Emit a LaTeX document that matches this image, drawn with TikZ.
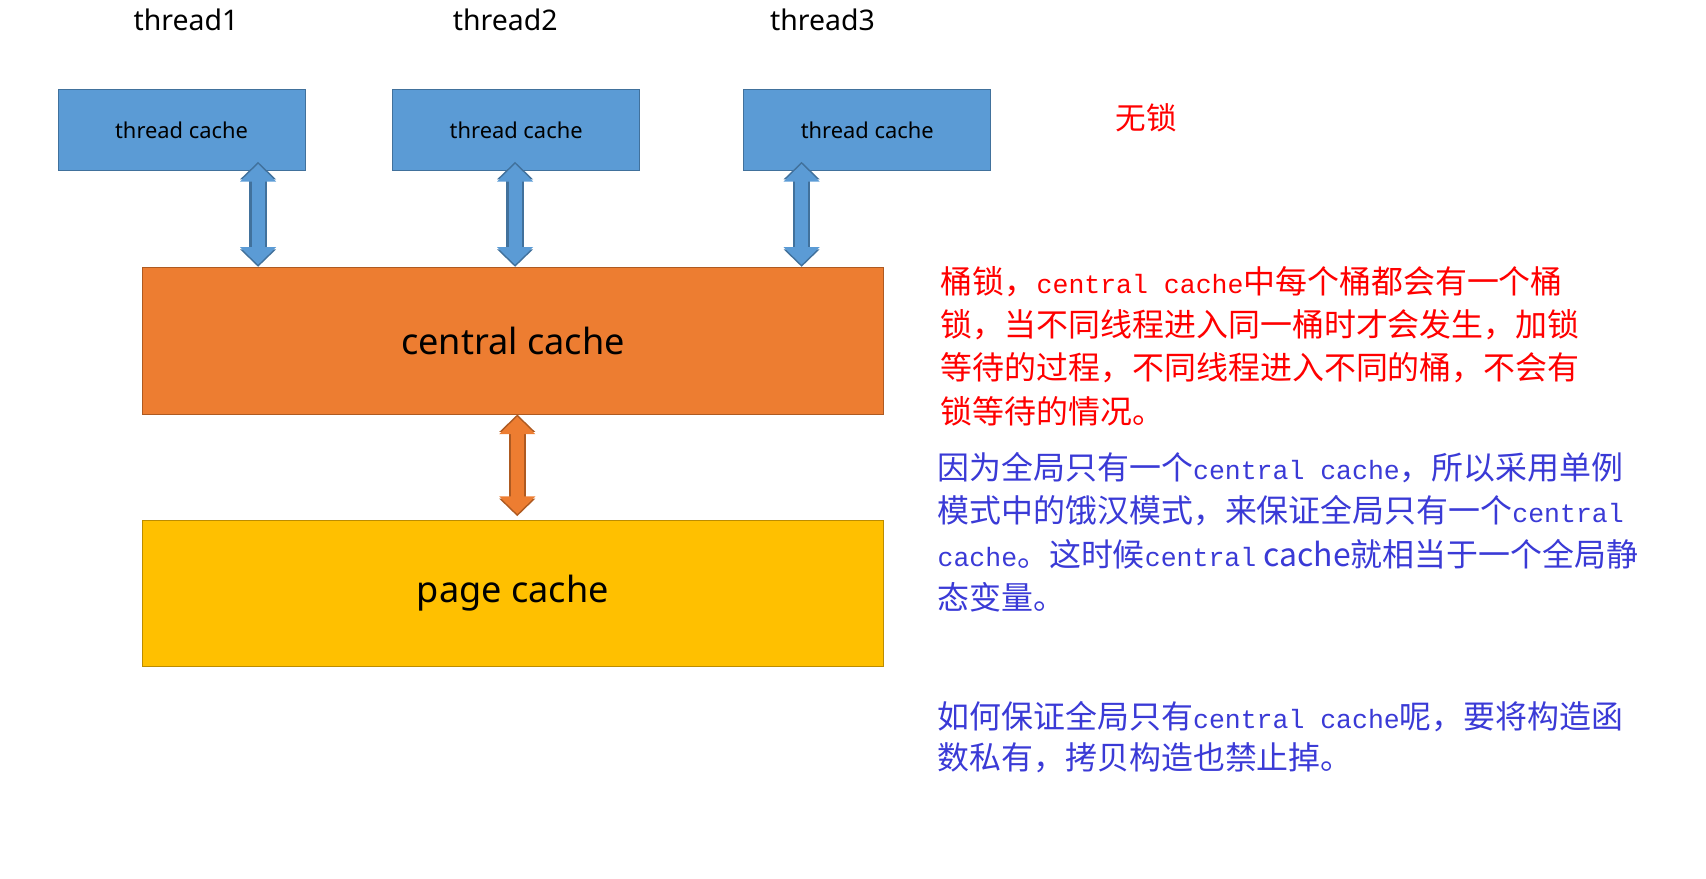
\documentclass[tikz,border=0pt]{standalone}
\usepackage{fontspec}
\setmainfont{Noto Sans}
\newfontfamily\cjk{Noto Sans CJK SC}
\newfontfamily\mono[Scale=0.83]{Liberation Mono}
\usetikzlibrary{arrows.meta}
\definecolor{tblue}{HTML}{5B9BD5}
\definecolor{tbord}{HTML}{41719C}
\definecolor{corg}{HTML}{ED7D31}
\definecolor{cbord}{HTML}{AE5A21}
\definecolor{pyel}{HTML}{FFC000}
\definecolor{pbord}{HTML}{BC8C00}
\definecolor{tred}{HTML}{FF0000}
\definecolor{tbl}{HTML}{3A3AD6}
\tikzset{
 tcbox/.style={draw=tbord,fill=tblue,minimum width=113pt,minimum height=37pt,font=\fontsize{10}{12}\selectfont\bfseries,inner sep=0pt},
 bigbox/.style={minimum width=339pt,minimum height=67pt,font=\fontsize{16.5}{20}\selectfont,inner sep=0pt},
 lbl/.style={font=\fontsize{13}{15}\selectfont},
 arrB/.style={line width=7pt,draw=#1,{Triangle[width=16pt,length=8pt]}-{Triangle[width=16pt,length=8pt]},shorten <=0pt,shorten >=0pt},
 para/.style={anchor=west,inner sep=0pt,font=\cjk\fontsize{14.6}{17}\selectfont},
}
\newcommand{\M}[1]{{\mono #1}}
\begin{document}
\begin{tikzpicture}[x=0.5pt,y=-0.5pt]
\useasboundingbox (0,0) rectangle (1560,803);
\node[lbl] (t1) at (170,18) {thread1};
\node[lbl] (t2) at (462,18) {thread2};
\node[lbl] (t3) at (752,18) {thread3};
\node[tcbox] (c1) at (166,119) {thread cache};
\node[tcbox] (c2) at (472,119) {thread cache};
\node[tcbox] (c3) at (793,119) {thread cache};
\node[bigbox,draw=cbord,fill=corg] (cc) at (469,312) {central cache};
\node[bigbox,draw=pbord,fill=pyel] (pc) at (469,542.5) {page cache};
\coordinate (a1t) at (236,148); \coordinate (a1b) at (236,244);
\coordinate (a2t) at (471,148); \coordinate (a2b) at (471,244);
\coordinate (a3t) at (733,148); \coordinate (a3b) at (733,244);
\coordinate (a4t) at (473,379); \coordinate (a4b) at (473,472);
\foreach \s/\e in {a1t/a1b,a2t/a2b,a3t/a3b}{
 \draw[arrB=tbord,line width=8pt] (\s) -- (\e);
 \draw[arrB=tblue,line width=6pt,shorten <=1pt,shorten >=1pt] (\s) -- (\e);
}
\draw[arrB=cbord,line width=8pt] (a4t) -- (a4b);
\draw[arrB=corg,line width=6pt,shorten <=1pt,shorten >=1pt] (a4t) -- (a4b);
\node[font=\cjk\fontsize{14}{16}\selectfont,text=tred] (wl) at (1048,108) {无锁};
\begin{scope}[text=tred]
\node[para] (r1) at (860,258) {桶锁，\M{central cache}中每个桶都会有一个桶};
\node[para] (r2) at (860,297) {锁，当不同线程进入同一桶时才会发生，加锁};
\node[para] (r3) at (860,336) {等待的过程，不同线程进入不同的桶，不会有};
\node[para] (r4) at (860,376) {锁等待的情况。};
\end{scope}
\begin{scope}[text=tbl]
\node[para] (b1) at (857,428) {因为全局只有一个\M{central cache}，所以采用单例};
\node[para] (b2) at (857,467) {模式中的饿汉模式，来保证全局只有一个\M{central}};
\node[para] (b3) at (857,507) {\M{cache}。这时候\M{central} cache就相当于一个全局静};
\node[para] (b4) at (857,546) {态变量。};
\node[para] (b5) at (857,655) {如何保证全局只有\M{central cache}呢，要将构造函};
\node[para] (b6) at (857,693) {数私有，拷贝构造也禁止掉。};
\end{scope}
\end{tikzpicture}
\end{document}
